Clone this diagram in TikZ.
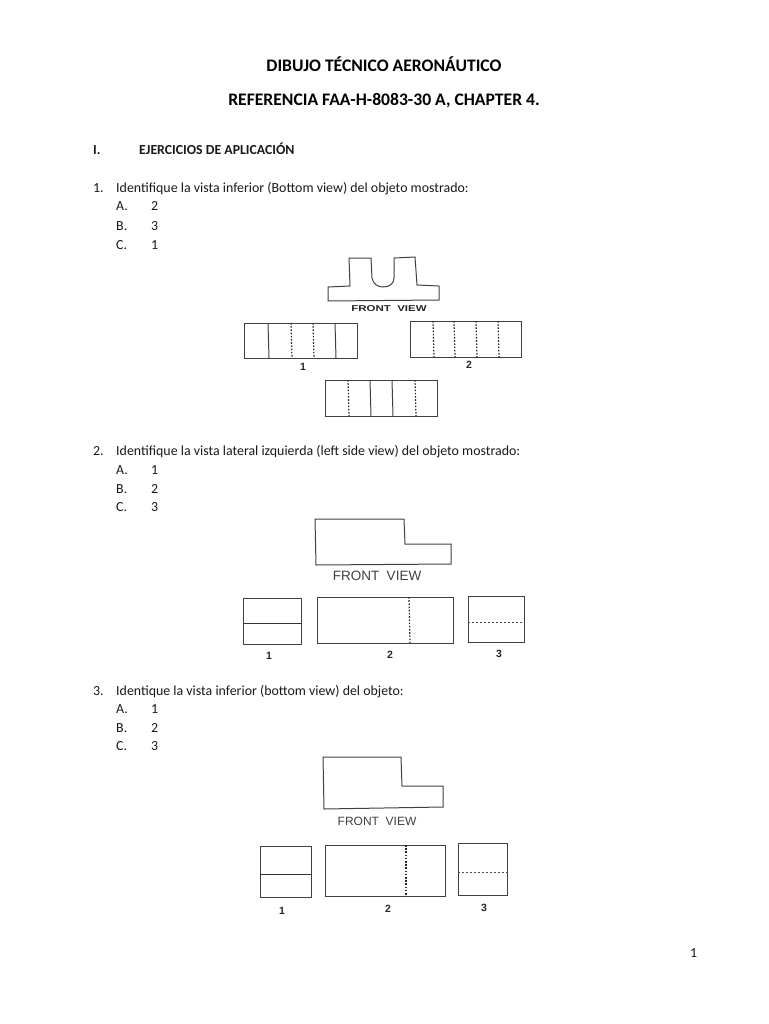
\documentclass[tikz,border=0pt]{standalone}
\usepackage{fontspec}
\setmainfont{Carlito}
\newfontfamily\scanfont{Liberation Sans}
\tikzset{
  txt/.style={anchor=base west,inner sep=0pt,font=\fontsize{13.9}{16}\selectfont,text=black!90},
  head/.style={anchor=base,inner sep=0pt,font=\fontsize{17.6}{19}\selectfont\bfseries,text=black},
  sec/.style={anchor=base west,inner sep=0pt,font=\fontsize{13.8}{15}\selectfont\bfseries,text=black!90},
  scan/.style={anchor=center,inner sep=0pt,text=black!75,font=\scanfont\fontsize{#1}{12}\selectfont},
  scanbold/.style={anchor=center,inner sep=0pt,text=black!85,font=\scanfont\bfseries\fontsize{10.5}{11}\selectfont},
  part/.style={draw=black!75,line width=1pt},
  thin part/.style={draw=black!80,line width=0.9pt},
  hidden/.style={draw=black!85,line width=1.2pt,dash pattern=on 1.6pt off 1.6pt},
  hidden thin/.style={draw=black!70,line width=0.6pt,dash pattern=on 2pt off 2pt}
}
\begin{document}
\begin{tikzpicture}[x=1pt,y=-1pt]
\useasboundingbox (0,0) rectangle (768,1024);

% headings
\node[head] (title) at (384,72) {DIBUJO TÉCNICO AERONÁUTICO};
\node[head] (ref) at (384,106) {REFERENCIA FAA-H-8083-30 A, CHAPTER 4.};
\node[sec] (secnum) at (93,155) {I.};
\node[sec] (sec) at (139,155) {EJERCICIOS DE APLICACIÓN};

% question 1
\node[txt] (qa) at (93,193) {1.};
\node[txt] at (116,193) {Identifique la vista inferior (Bottom view) del objeto mostrado:};
\node[txt] (qaA) at (116,211) {A.};
\node[txt] at (151,211) {2};
\node[txt] (qaB) at (116,230) {B.};
\node[txt] at (151,230) {3};
\node[txt] (qaC) at (116,249) {C.};
\node[txt] at (151,249) {1};

\draw[part] (328,301)--(328,287)--(350,286)--(349,258)--(371,258)--(372,278)
  .. controls (373,284) and (378,287) .. (383,287)
  .. controls (389,287) and (394,284) .. (394,278)
  --(394,258)--(415,257)--(417,285)--(439,286)--(439,300)--cycle;
\node[scanbold,font=\scanfont\bfseries\fontsize{8.5}{10}\selectfont,xscale=1.35] (fronta) at (389,309) {FRONT\ \ VIEW};

\draw[part] (244,323) rectangle (357,358);
\draw[part] (268,323)--(269,358);
\draw[hidden] (291,323)--(292,358);
\draw[hidden] (313,323)--(314,358);
\draw[part] (335,323)--(336,358);
\node[scanbold] (laa) at (303,367) {1};

\draw[part] (410,321) rectangle (521,357);
\draw[hidden] (433,321)--(434,357);
\draw[hidden] (454,321)--(455,357);
\draw[hidden] (476,321)--(477,357);
\draw[hidden] (498,321)--(499,357);
\node[scanbold] (lab) at (469,365) {2};

\draw[part] (325,380) rectangle (437,416);
\draw[hidden] (348,380)--(349,416);
\draw[part] (370,380)--(371,416);
\draw[part] (392,380)--(393,416);
\draw[hidden] (415,380)--(416,416);

% question 2
\node[txt] (qb) at (93,455) {2.};
\node[txt] at (116,455) {Identifique la vista lateral izquierda (left side view) del objeto mostrado:};
\node[txt] (qbA) at (116,474) {A.};
\node[txt] at (151,474) {1};
\node[txt] (qbB) at (116,493) {B.};
\node[txt] at (151,493) {2};
\node[txt] (qbC) at (116,511) {C.};
\node[txt] at (151,511) {3};

\draw[part] (315,519)--(404,519)--(405,544)--(451,544)--(451,564)--(316,565)--cycle;
\node[scan=13.5] (frontb) at (377,576) {FRONT\ \ VIEW};

\draw[part] (243,598) rectangle (301,644);
\draw[thin part] (243,623)--(301,623);
\node[scanbold] (lba) at (269,656) {1};

\draw[part] (317,597) rectangle (453,643);
\draw[hidden] (409,597)--(410,643);
\node[scanbold] (lbb) at (390,655) {2};

\draw[part] (468,596) rectangle (524,642);
\draw[hidden thin] (468,622)--(524,622);
\node[scanbold] (lbc) at (499,654) {3};

% question 3
\node[txt] (qc) at (93,695) {3.};
\node[txt] at (116,695) {Identique la vista inferior (bottom view) del objeto:};
\node[txt] (qcA) at (116,713) {A.};
\node[txt] at (151,713) {1};
\node[txt] (qcB) at (116,732) {B.};
\node[txt] at (151,732) {2};
\node[txt] (qcC) at (116,750) {C.};
\node[txt] at (151,750) {3};

\draw[part] (323,757)--(401,757)--(402,786)--(443,786)--(443,807)--(324,809)--cycle;
\node[scan=12] (frontc) at (377,821) {FRONT\ \ VIEW};

\draw[part] (260,846) rectangle (311,897);
\draw[thin part] (260,874)--(311,874);
\node[scanbold] (lca) at (282,911) {1};

\draw[part] (325,845) rectangle (445,896);
\draw[hidden] (406,845)--(406,896);
\node[scanbold] (lcb) at (388,909) {2};

\draw[part] (458,843) rectangle (507,895);
\draw[hidden thin] (458,872)--(507,872);
\node[scanbold] (lcc) at (484,908) {3};

% page number
\node[txt] (pagenum) at (690,957) {1};
\end{tikzpicture}
\end{document}
